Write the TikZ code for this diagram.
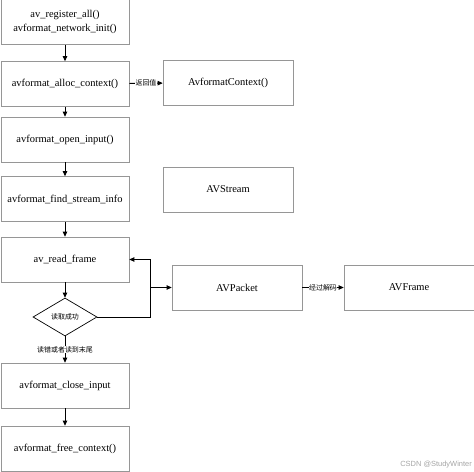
\documentclass[tikz,border=0pt]{standalone}
\usepackage{fontspec}
\setmainfont{Liberation Serif}
\newfontfamily\cjk{Noto Sans CJK SC}
\newfontfamily\wmfont{Liberation Sans}
\usetikzlibrary{shapes.geometric,arrows.meta}
\definecolor{boxgray}{RGB}{150,150,150}
\tikzset{
  fbox/.style={draw=boxgray, line width=0.7bp, fill=white, minimum width=128bp, minimum height=45bp, inner sep=0pt, align=center, font=\fontsize{10.5}{13.5}\selectfont},
  dbox/.style={diamond, draw=black, line width=0.7bp, minimum width=64bp, minimum height=38bp, inner sep=0pt, aspect=1.68, font=\cjk\fontsize{7}{8}\selectfont},
  conn/.style={draw=black, line width=0.8bp, -{Triangle[length=5bp,width=4.5bp]}},
  lbl/.style={fill=white, inner sep=0.5bp, font=\cjk\fontsize{7}{8}\selectfont},
}
\begin{document}
\begin{tikzpicture}[x=1bp,y=-1bp]
\useasboundingbox (0,0) rectangle (474,472);
\fill[white] (0,0) rectangle (474,472);
\node[fbox] (b1) at (65,22) {av\_register\_all()\\avformat\_network\_init()};
\node[fbox] (b2) at (65,84) {avformat\_alloc\_context()};
\node[fbox] (b3) at (65,139.5) {avformat\_open\_input()};
\node[fbox] (b4) at (65,199) {avformat\_find\_stream\_info};
\node[fbox] (b5) at (65,259.5) {av\_read\_frame};
\node[dbox] (d) at (65,317) {读取成功};
\node[fbox] (b6) at (65,385.5) {avformat\_close\_input};
\node[fbox] (b7) at (65,448.5) {avformat\_free\_context()};
\node[fbox, minimum width=130bp] (ctx) at (228,82.5) {AvformatContext()};
\node[fbox, minimum width=130bp] (st) at (228,189.5) {AVStream};
\node[fbox, minimum width=130bp] (pk) at (237,287.5) {AVPacket};
\node[fbox, minimum width=130bp] (fr) at (409,287.5) {AVFrame};
\coordinate (j) at (150,287.5);

\draw[conn] (b1) -- (b2);
\draw[conn] (b2) -- (b3);
\draw[conn] (b3) -- (b4);
\draw[conn] (b4) -- (b5);
\draw[conn] (b5) -- (d);
\draw[conn] (d) -- node[lbl] {读错或者读到末尾} (b6);
\draw[conn] (b6) -- (b7);
\draw[conn] (b2) -- node[lbl] {返回值} (ctx);
\draw[conn] (pk) -- node[lbl] {经过解码} (fr);
\draw[conn] (d.east) -- (d.east -| j) |- (b5.east);
\draw[conn] (j) -- (pk.west);

\node[anchor=east, text=black!35, font=\wmfont\fontsize{7.5}{9}\selectfont, inner sep=0pt] (wm) at (472,465) {CSDN @StudyWinter};
\end{tikzpicture}
\end{document}
